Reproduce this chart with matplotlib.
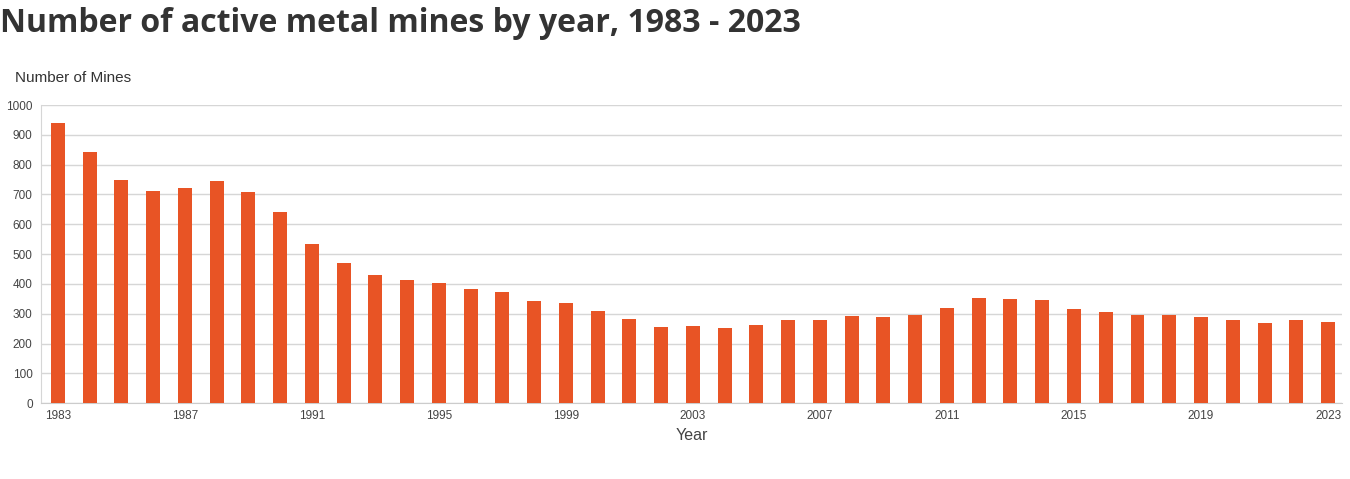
import numpy as np
import matplotlib.pyplot as plt

years = list(range(1983, 2024))
mines = [940, 842, 748, 711, 721, 745, 707, 640, 534, 470, 429, 412, 402,
         382, 372, 342, 335, 308, 282, 255, 258, 251, 261, 278, 278, 292, 288,
         295, 318, 352, 349, 345, 315, 305, 295, 295, 288, 278, 268, 278, 272]
tick_years = list(range(1983, 2024, 4))

BAR = "#E85425"
TXT = "#333333"
plt.rcParams["font.family"] = ["Liberation Sans", "DejaVu Sans"]

fig = plt.figure(figsize=(13.5, 4.79), dpi=100)
ax = fig.add_axes([41 / 1350, 1 - 403.3 / 479, 1301 / 1350, 298.3 / 479])

x = np.arange(len(years))
ax.bar(x, mines, width=0.44, color=BAR, zorder=3)

ax.set_xlim(-0.53, len(years) - 1 + 0.44)
ax.set_ylim(0, 1000)
ax.set_yticks(range(0, 1001, 100))
ax.tick_params(axis="y", length=0, labelsize=8.5, colors="#444444", pad=6)
ax.set_xticks([years.index(y) for y in tick_years])
ax.set_xticklabels([str(y) for y in tick_years])
ax.tick_params(axis="x", length=0, labelsize=8.5, colors="#444444", pad=5)
ax.grid(axis="y", color="#d6d6d6", lw=1, zorder=0)
for s in ["top", "right"]:
    ax.spines[s].set_visible(False)
ax.spines["left"].set_color("#d6d6d6")
ax.spines["bottom"].set_color("#cccccc")

ax.set_xlabel("Year", fontsize=11.5, color="#444444", labelpad=4)
fig.text(15 / 1350, 1 - 78 / 479, "Number of Mines", fontsize=11, color=TXT, va="center", ha="left")
fig.text(0, 1 - 23 / 479, "Number of active metal mines by year, 1983 - 2023",
         fontsize=23, fontweight="bold", color=TXT, va="center", ha="left",
         family=["Open Sans", "DejaVu Sans"])

fig.savefig("out.png", dpi=100)
